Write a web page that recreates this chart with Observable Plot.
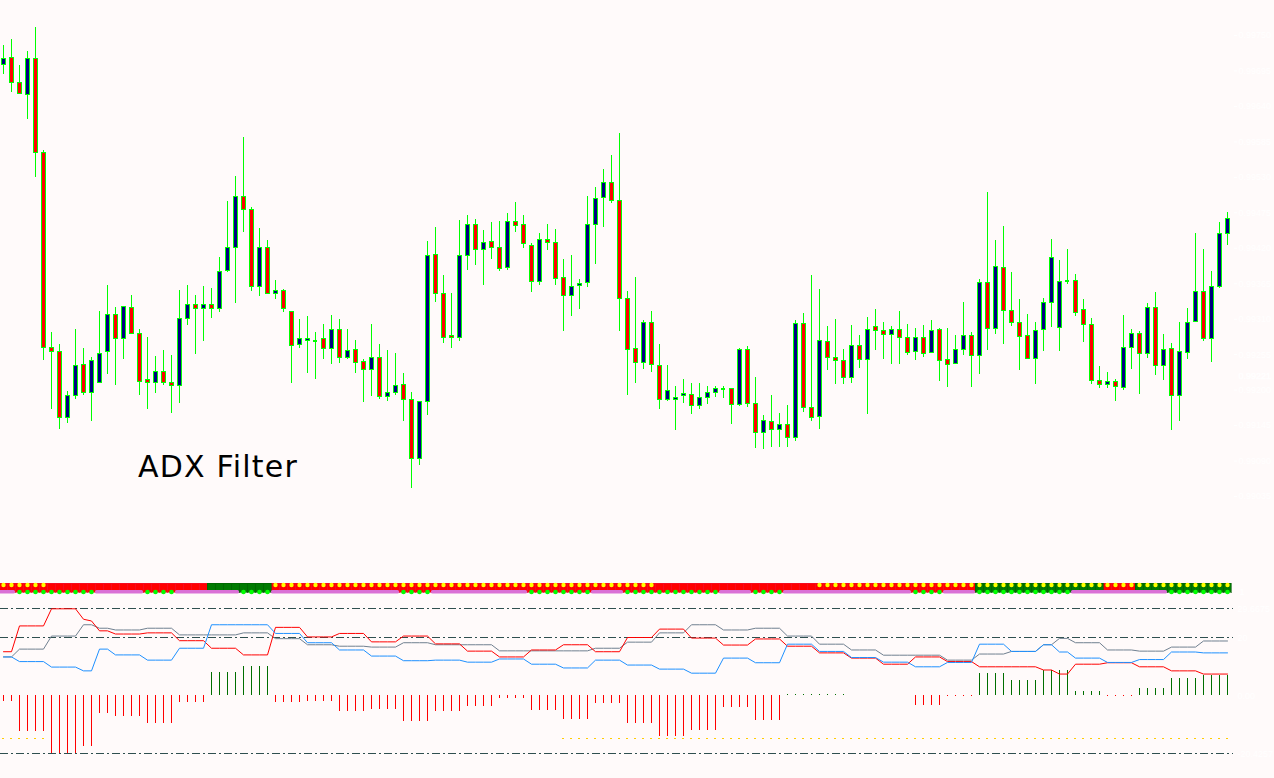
<!DOCTYPE html>
<html><head><meta charset="utf-8">
<script src="https://cdn.jsdelivr.net/npm/d3@7"></script>
<script src="https://cdn.jsdelivr.net/npm/@observablehq/plot@0.6"></script>
<style>
html,body{margin:0;padding:0;background:#fffafa;}
#wrap{position:relative;width:1274px;height:778px;overflow:hidden;background:#fffafa;}
.panel{position:absolute;left:0;}
#title{position:absolute;left:138px;top:452px;font:30px "Comic Sans MS","DejaVu Sans",sans-serif;letter-spacing:1.2px;color:#000;line-height:30px;white-space:nowrap;}
</style></head><body><div id="wrap"></div>
<script>
// ---------- price candles (154 bars) ----------
const opens = [0.99704,0.99715,0.99676,0.99657,0.99714,0.99568,0.99266,0.99259,0.99156,0.99191,
0.99239,0.99196,0.99211,0.99259,0.99316,0.99279,0.99328,0.99287,0.99215,0.99211,
0.99228,0.99211,0.99206,0.99310,0.99332,0.99326,0.99332,0.99326,0.99385,0.99420,
0.99500,0.99479,0.99360,0.99421,0.99349,0.99353,0.99321,0.99270,0.99276,0.99276,
0.99279,0.99264,0.99293,0.99250,0.99262,0.99244,0.99231,0.99250,0.99190,0.99196,
0.99208,0.99184,0.99093,0.99182,0.99410,0.99349,0.99284,0.99281,0.99408,0.99456,
0.99417,0.99430,0.99420,0.99389,0.99460,0.99456,0.99424,0.99368,0.99433,0.99428,
0.99374,0.99346,0.99361,0.99366,0.99456,0.99498,0.99521,0.99494,0.99341,0.99263,
0.99242,0.99304,0.99237,0.99185,0.99185,0.99191,0.99192,0.99175,0.99188,0.99196,
0.99201,0.99202,0.99177,0.99262,0.99178,0.99133,0.99151,0.99138,0.99146,0.99126,
0.99303,0.99173,0.99159,0.99275,0.99250,0.99245,0.99219,0.99268,0.99247,0.99298,
0.99292,0.99286,0.99293,0.99281,0.99259,0.99281,0.99258,0.99293,0.99247,0.99240,
0.99262,0.99284,0.99253,0.99366,0.99295,0.99389,0.99323,0.99304,0.99284,0.99248,
0.99293,0.99335,0.99297,0.99370,0.99369,0.99324,0.99301,0.99214,0.99208,0.99213,
0.99203,0.99265,0.99287,0.99256,0.99327,0.99237,0.99264,0.99191,0.99258,0.99306,
0.99352,0.99279,0.99360,0.99442];
const highs = [0.99734,0.99744,0.99703,0.99725,0.99762,0.99571,0.99289,0.99270,0.99198,0.99294,
0.99264,0.99250,0.99322,0.99363,0.99328,0.99329,0.99346,0.99294,0.99281,0.99252,
0.99262,0.99253,0.99354,0.99363,0.99346,0.99360,0.99357,0.99405,0.99492,0.99531,
0.99592,0.99484,0.99450,0.99432,0.99370,0.99356,0.99321,0.99310,0.99314,0.99289,
0.99301,0.99315,0.99309,0.99294,0.99277,0.99248,0.99302,0.99270,0.99262,0.99257,
0.99225,0.99196,0.99182,0.99430,0.99452,0.99377,0.99350,0.99463,0.99471,0.99464,
0.99447,0.99460,0.99461,0.99474,0.99491,0.99471,0.99427,0.99443,0.99457,0.99449,
0.99402,0.99409,0.99372,0.99500,0.99514,0.99542,0.99564,0.99598,0.99353,0.99374,
0.99308,0.99322,0.99270,0.99238,0.99205,0.99217,0.99210,0.99211,0.99205,0.99205,
0.99205,0.99202,0.99265,0.99268,0.99219,0.99160,0.99191,0.99163,0.99176,0.99308,
0.99319,0.99377,0.99356,0.99298,0.99309,0.99263,0.99300,0.99284,0.99312,0.99325,
0.99305,0.99298,0.99322,0.99302,0.99295,0.99300,0.99308,0.99295,0.99295,0.99284,
0.99336,0.99289,0.99372,0.99506,0.99432,0.99454,0.99383,0.99340,0.99318,0.99305,
0.99342,0.99433,0.99401,0.99418,0.99379,0.99340,0.99311,0.99236,0.99227,0.99216,
0.99315,0.99294,0.99291,0.99334,0.99351,0.99286,0.99272,0.99305,0.99326,0.99443,
0.99418,0.99384,0.99460,0.99475];
const lows = [0.99690,0.99662,0.99659,0.99620,0.99530,0.99246,0.99170,0.99139,0.99148,0.99185,
0.99192,0.99151,0.99211,0.99224,0.99207,0.99248,0.99287,0.99192,0.99170,0.99194,
0.99207,0.99163,0.99179,0.99300,0.99256,0.99276,0.99311,0.99321,0.99383,0.99334,
0.99445,0.99353,0.99345,0.99349,0.99340,0.99321,0.99210,0.99264,0.99225,0.99216,
0.99247,0.99239,0.99242,0.99248,0.99225,0.99181,0.99190,0.99186,0.99182,0.99192,
0.99151,0.99047,0.99083,0.99161,0.99336,0.99273,0.99264,0.99276,0.99386,0.99393,
0.99362,0.99403,0.99384,0.99386,0.99444,0.99419,0.99352,0.99362,0.99416,0.99362,
0.99291,0.99314,0.99325,0.99359,0.99395,0.99452,0.99490,0.99291,0.99192,0.99210,
0.99232,0.99227,0.99170,0.99182,0.99138,0.99179,0.99162,0.99170,0.99178,0.99189,
0.99187,0.99147,0.99174,0.99173,0.99110,0.99108,0.99111,0.99111,0.99111,0.99120,
0.99165,0.99151,0.99139,0.99231,0.99209,0.99209,0.99210,0.99233,0.99162,0.99262,
0.99248,0.99240,0.99240,0.99254,0.99246,0.99250,0.99258,0.99214,0.99204,0.99240,
0.99254,0.99204,0.99224,0.99262,0.99287,0.99271,0.99298,0.99230,0.99247,0.99208,
0.99260,0.99297,0.99260,0.99364,0.99314,0.99274,0.99208,0.99203,0.99203,0.99182,
0.99199,0.99232,0.99193,0.99249,0.99223,0.99215,0.99138,0.99151,0.99247,0.99306,
0.99275,0.99243,0.99358,0.99425];
const closes = [0.99714,0.99677,0.99659,0.99714,0.99568,0.99266,0.99259,0.99156,0.99191,0.99237,
0.99196,0.99245,0.99256,0.99316,0.99279,0.99329,0.99287,0.99213,0.99211,0.99228,
0.99211,0.99206,0.99310,0.99332,0.99326,0.99332,0.99326,0.99383,0.99420,0.99500,
0.99479,0.99360,0.99421,0.99349,0.99353,0.99326,0.99269,0.99279,0.99279,0.99276,
0.99264,0.99294,0.99250,0.99261,0.99242,0.99231,0.99250,0.99189,0.99196,0.99206,
0.99185,0.99093,0.99182,0.99408,0.99349,0.99281,0.99281,0.99408,0.99456,0.99417,
0.99428,0.99420,0.99388,0.99460,0.99455,0.99426,0.99368,0.99433,0.99428,0.99372,
0.99346,0.99360,0.99365,0.99456,0.99496,0.99521,0.99493,0.99341,0.99262,0.99242,
0.99304,0.99239,0.99185,0.99199,0.99188,0.99194,0.99175,0.99188,0.99196,0.99202,
0.99201,0.99177,0.99262,0.99178,0.99133,0.99152,0.99138,0.99146,0.99126,0.99303,
0.99173,0.99157,0.99276,0.99250,0.99245,0.99219,0.99268,0.99247,0.99293,0.99292,
0.99286,0.99293,0.99281,0.99258,0.99281,0.99256,0.99292,0.99245,0.99239,0.99262,
0.99284,0.99253,0.99366,0.99295,0.99391,0.99323,0.99304,0.99282,0.99248,0.99292,
0.99335,0.99405,0.99368,0.99370,0.99320,0.99301,0.99214,0.99208,0.99213,0.99205,
0.99265,0.99287,0.99256,0.99327,0.99237,0.99262,0.99191,0.99259,0.99304,0.99352,
0.99279,0.99360,0.99442,0.99465];
const priceTicks = [0.99750,0.99695,0.99640,0.99585,0.99530,0.99475,0.99420,0.99365,0.99310,0.99255,0.99200,0.99145,0.99090,0.99035];
const currentPrice = 0.99221;
const chartLabel = "ADX Filter";

// ---------- signal strip (runs of bar indices) ----------
const stripRedRuns = [[0,25],[34,121],[138,141]];
const stripGreenRuns = [[26,33],[122,137],[142,153]];
const yellowDotRuns = [[0,5],[34,81],[102,153]];
const greenDotRuns = [[2,11],[18,21],[30,33],[50,53],[66,73],[78,89],[94,97],[114,117],[122,133],[146,153]];
const pinkRuns = [[0,1],[12,17],[22,29],[34,49],[54,65],[74,77],[90,93],[98,113],[118,121],[134,145]];

// ---------- ADX window ----------
const minusDI = [15.2,15.2,24.1,24.1,24.1,24.1,30,30,30,30,
26.4,25.8,22.4,22.4,21.3,21.3,21.3,21.3,21.7,21.7,
21.7,21.7,19.0,19.0,19.0,19.0,16.4,16.4,16.4,16.4,
14.1,14.1,14.1,14.1,23.6,23.6,23.6,23.6,20.3,20.3,
20.3,20.3,21.5,21.5,21.5,21.5,18.6,18.6,18.6,18.6,
20.6,20.6,20.6,20.6,17.9,17.9,17.9,17.9,15.4,15.4,
15.4,15.4,13.4,13.4,13.4,13.4,15.8,15.8,15.8,15.8,
17.6,17.6,17.6,17.6,15.2,15.2,15.2,15.2,20.1,20.1,
20.1,20.1,23.0,23.0,23.0,23.0,19.9,19.9,19.9,19.9,
17.5,17.5,17.5,17.5,19.6,19.6,19.6,19.6,17.1,17.1,
17.1,17.1,14.8,14.8,14.8,14.8,13.0,13.0,13.0,13.0,
10.9,10.9,10.9,10.9,13.4,13.4,13.4,13.4,11.8,11.8,
11.8,11.8,10.0,10.0,10.0,10.0,10.0,10.0,10.0,10.0,
8.9,8.9,7.5,7.5,10.9,10.9,10.9,10.9,11.4,11.4,
11.4,11.4,10.0,10.0,10.0,10.0,8.6,8.6,8.6,8.6,
7.5,7.5,7.5,7.5];
const plusDI = [13.4,13.4,11.8,11.8,11.8,11.8,9.9,9.9,9.9,9.9,
8.6,8.6,16.1,16.1,14.1,14.1,14.1,14.1,12.3,12.3,
12.3,12.3,16.4,16.4,16.4,16.4,24.5,24.5,24.5,24.5,
24.5,24.5,24.5,24.5,21.5,21.5,21.5,21.5,18.3,18.3,
18.3,18.3,15.8,15.8,15.8,15.8,13.7,13.7,13.7,13.7,
12.1,12.1,12.1,12.1,12.3,12.3,12.3,12.3,11.6,11.6,
11.6,11.6,12.7,12.7,12.7,12.7,10.9,10.9,10.9,10.9,
9.6,9.6,9.6,9.6,12.3,12.3,12.3,12.3,10.6,10.6,
10.6,10.6,9.2,9.2,9.2,9.2,7.8,7.8,7.8,7.8,
13.0,13.0,13.0,13.0,11.4,11.4,11.4,11.4,17.8,17.8,
17.8,17.8,15.3,15.3,15.3,15.3,13.2,13.2,13.2,13.2,
11.6,11.6,11.6,11.6,10.0,10.0,10.0,10.0,11.5,11.5,
11.5,11.5,17.8,17.8,17.8,17.8,15.3,15.3,15.3,15.3,
17.6,17.6,15.1,15.1,13.0,13.0,13.0,13.0,11.5,11.5,
11.5,11.5,12.5,12.5,12.5,12.5,15.1,15.1,15.1,15.1,
14.8,14.8,14.8,14.8];
const adx = [13.4,13.4,16.1,16.1,16.1,16.1,20.6,20.6,20.6,20.6,
24.5,24.5,23.3,23.3,22.7,22.7,22.7,22.7,23.3,23.3,
23.3,23.3,21.0,21.0,21.0,21.0,21.0,21.0,21.0,21.0,
21.7,21.7,21.7,21.7,19.7,19.7,19.7,19.7,17.6,17.6,
17.6,17.6,17.1,17.1,17.1,17.1,16.8,16.8,16.8,16.8,
18.3,18.3,18.3,18.3,17.6,17.6,17.6,17.6,17.6,17.6,
17.6,17.6,15.5,15.5,15.5,15.5,15.5,15.5,15.5,15.5,
15.5,15.5,15.5,15.5,16.4,16.4,16.4,16.4,18.5,18.5,
18.5,18.5,21.7,21.7,21.7,21.7,24.5,24.5,24.5,24.5,
22.7,22.7,22.7,22.7,23.3,23.3,23.3,23.3,20.6,20.6,
20.6,20.6,17.8,17.8,17.8,17.8,15.8,15.8,15.8,15.8,
14.0,14.0,14.0,14.0,14.0,14.0,14.0,14.0,12.3,12.3,
12.3,12.3,14.4,14.4,14.4,14.4,15.3,15.3,15.3,15.3,
17.6,17.6,19.8,19.8,18.3,18.3,18.3,18.3,15.8,15.8,
15.8,15.8,15.4,15.4,15.4,15.4,16.8,16.8,16.8,16.8,
18.9,18.9,18.9,18.9];
const diHist = [-2.0,-2.0,-12.3,-12.3,-12.3,-12.3,-20,-20,-20,-20,
-17.5,-17.5,-6.1,-6.1,-7.1,-7.1,-7.1,-7.1,-9.5,-9.5,
-9.5,-9.5,-2.3,-2.3,-2.3,-2.3,8.0,8.0,8.0,8.0,
10.0,10.0,10.0,10.0,-2.3,-2.3,-2.3,-2.3,-2.0,-2.0,
-2.0,-2.0,-5.4,-5.4,-5.4,-5.4,-4.7,-4.7,-4.7,-4.7,
-8.9,-8.9,-8.9,-8.9,-5.4,-5.4,-5.4,-5.4,-3.7,-3.7,
-3.7,-3.7,-0.9,-0.9,-0.9,-0.9,-5.1,-5.1,-5.1,-5.1,
-8.2,-8.2,-8.2,-8.2,-2.6,-2.6,-2.6,-2.6,-9.5,-9.5,
-9.5,-9.5,-14.0,-14.0,-14.0,-14.0,-12.1,-12.1,-12.1,-12.1,
-4.0,-4.0,-4.0,-4.0,-8.5,-8.5,-8.5,-8.5,0.3,0.3,
0.3,0.3,0.3,0.3,0.3,0.3,0.15,0.15,0.15,0.15,
0.15,0.15,0.15,0.15,-3.3,-3.3,-3.3,-3.3,-0.2,-0.2,
-0.2,-0.2,7.7,7.7,7.7,7.7,5.3,5.3,5.3,5.3,
8.6,8.6,8.6,8.6,1.6,1.6,1.6,1.6,-0.2,-0.2,
-0.2,-0.2,2.5,2.5,2.5,2.5,6.0,6.0,6.0,6.0,
7.0,7.0,7.0,7.0];
const adxLevels = [30, 20, -20];
const adxTicks = [30, 20, 0, -20];
const adxTickLabels = ["29.6675", "20", "0.00", "-20.4257"];
const filterLevel = -15;
const filterRuns = [[0,5],[70,153]];

// ---------- build ----------
const N = opens.length;
const bars = opens.map((o, i) => ({i, open: o, high: highs[i], low: lows[i], close: closes[i], minus: minusDI[i], plus: plusDI[i], adx: adx[i], hist: diHist[i]}));
const expand = runs => runs.flatMap(([a, b]) => d3.range(a, b + 1));
const xOpt = {type: "linear", domain: [0, N - 1], range: [3, 1227], axis: null};
const baseStyle = {background: "transparent", color: "#ffffff", fontSize: "9px", fontFamily: "'Liberation Sans', Arial, sans-serif", overflow: "visible"};
const LIME = "#00ff00";
const CRISP = "crispEdges";
const wrap = document.getElementById("wrap");
function place(svg, top) { const d = document.createElement("div"); d.className = "panel"; d.style.top = top + "px"; d.appendChild(svg); wrap.appendChild(d); }

const bull = bars.filter(d => d.close > d.open);
const bear = bars.filter(d => d.close < d.open);
const doji = bars.filter(d => d.close === d.open);
const bodyHalf = 0.25;

const topPlot = Plot.plot({
  width: 1274, height: 575,
  marginTop: 0, marginBottom: 0, marginLeft: 0, marginRight: 41,
  style: baseStyle,
  x: xOpt,
  y: {type: "linear", domain: [0.99035, 0.99750], range: [496, 35], axis: "right", ticks: priceTicks, tickFormat: d3.format(".5f"), tickSize: 3, tickPadding: 2, label: null},
  marks: [
    Plot.ruleX(bars, {x: "i", y1: "low", y2: "high", stroke: LIME, strokeWidth: 1, shapeRendering: CRISP}),
    Plot.rect(bull, {x1: d => d.i - bodyHalf, x2: d => d.i + bodyHalf, y1: "open", y2: "close", fill: "#000080", stroke: LIME, strokeWidth: 1, shapeRendering: CRISP}),
    Plot.rect(bear, {x1: d => d.i - bodyHalf, x2: d => d.i + bodyHalf, y1: "open", y2: "close", fill: "#ff0000", stroke: LIME, strokeWidth: 1, shapeRendering: CRISP}),
    Plot.ruleY(doji, {y: "open", x1: d => d.i - 0.3, x2: d => d.i + 0.3, stroke: LIME, strokeWidth: 2, shapeRendering: CRISP}),
    Plot.text([currentPrice], {x: N - 1, y: d => d, dx: 11, text: d => d3.format(".5f")(d), textAnchor: "start", fill: "#ffffff", stroke: "#ffffff", strokeWidth: 0.5, fontSize: 9})
  ]
});
place(topPlot, 0);

const title = document.createElement("div");
title.id = "title"; title.textContent = chartLabel; wrap.appendChild(title);

const stripPlot = Plot.plot({
  width: 1274, height: 25,
  marginTop: 0, marginBottom: 0, marginLeft: 0, marginRight: 41,
  style: baseStyle,
  x: xOpt,
  y: {type: "linear", domain: [0, 1], range: [17, 8], axis: null},
  marks: [
    Plot.rect(expand(stripRedRuns), {x1: d => d - 0.5, x2: d => d + 0.5, y1: 0, y2: 1, fill: "#ff0000", stroke: "#ee1133", strokeWidth: 0.6, shapeRendering: CRISP}),
    Plot.rect(expand(stripGreenRuns), {x1: d => d - 0.5, x2: d => d + 0.5, y1: 0, y2: 1, fill: "#007a00", stroke: "#005c00", strokeWidth: 0.6, shapeRendering: CRISP}),
    Plot.rect(pinkRuns, {x1: d => d[0] - 0.5, x2: d => d[1] + 0.5, y1: -0.17, y2: 0.22, fill: "#da70d6", rx: 1.5}),
    Plot.dot(expand(yellowDotRuns), {x: d => d, y: 0.83, r: 2.2, fill: "#ffff00"}),
    Plot.dot(expand(greenDotRuns), {x: d => d, y: 0.06, r: 2.3, fill: LIME}),
    Plot.text(["1"], {x: N - 1, y: 0, dx: 12, text: d => d, textAnchor: "start", fill: "#ffffff", fontSize: 9})
  ]
});
place(stripPlot, 575);

const adxPlot = Plot.plot({
  width: 1274, height: 178,
  marginTop: 0, marginBottom: 0, marginLeft: 0, marginRight: 41,
  style: baseStyle,
  x: xOpt,
  y: {type: "linear", domain: [-20, 30], range: [153.3, 8.3], axis: "right", ticks: adxTicks, tickFormat: d => adxTickLabels[adxTicks.indexOf(d)], tickSize: 0, tickPadding: 4, label: null},
  marks: [
    Plot.ruleY(adxLevels, {stroke: "#2f4f4f", strokeWidth: 1, strokeDasharray: "8,3,2,3", shapeRendering: CRISP}),
    Plot.ruleX(bars.filter(d => d.hist < 0), {x: "i", y1: 0, y2: "hist", stroke: "#ff0000", strokeWidth: 1, shapeRendering: CRISP}),
    Plot.ruleX(bars.filter(d => d.hist >= 0), {x: "i", y1: 0, y2: "hist", stroke: "#006e00", strokeWidth: 1, shapeRendering: CRISP}),
    Plot.rect(expand(filterRuns), {x1: d => d - 0.13, x2: d => d + 0.13, y1: filterLevel - 0.2, y2: filterLevel + 0.2, fill: "#ffcc00", shapeRendering: CRISP}),
    Plot.line(bars, {x: "i", y: "adx", stroke: "#708090", strokeWidth: 1}),
    Plot.line(bars, {x: "i", y: "minus", stroke: "#ff0000", strokeWidth: 1}),
    Plot.line(bars, {x: "i", y: "plus", stroke: "#1e90ff", strokeWidth: 1})
  ]
});
place(adxPlot, 600);
</script></body></html>
